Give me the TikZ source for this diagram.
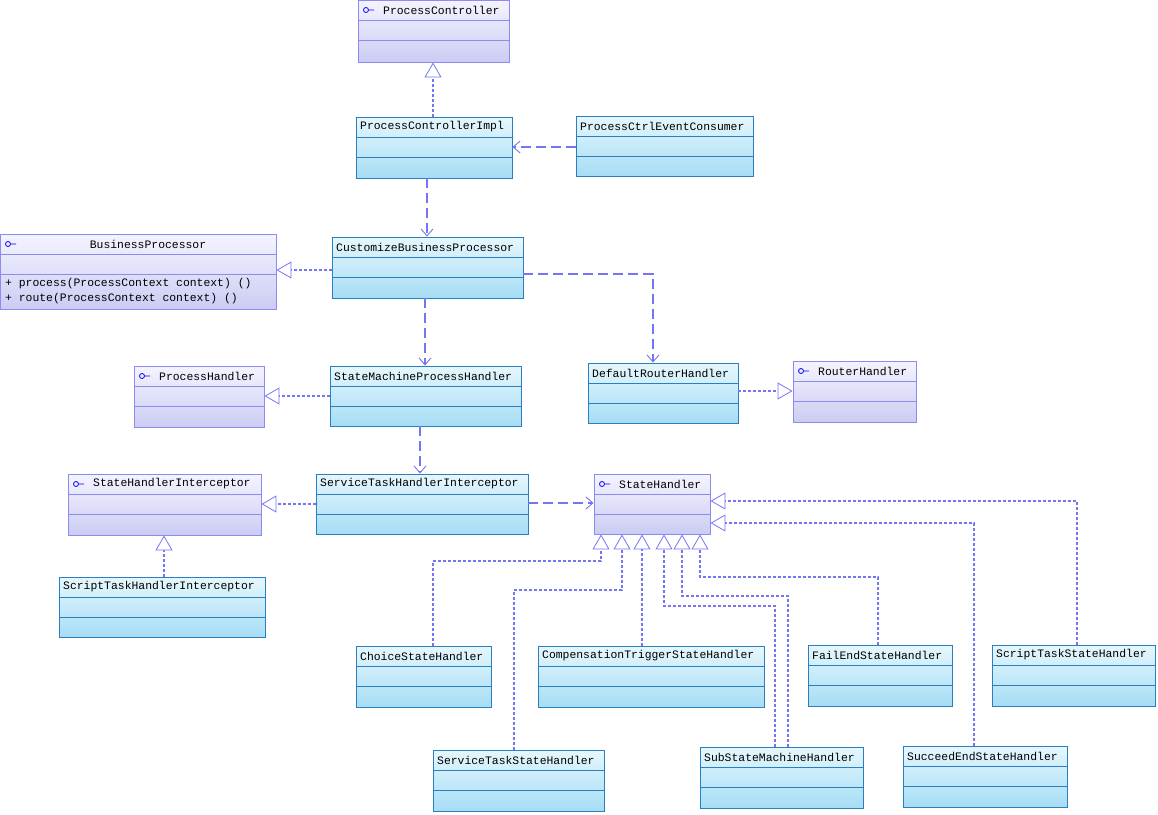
\documentclass[tikz,border=0pt]{standalone}
\usepackage{fontspec}
\setmainfont{Liberation Mono}
\usetikzlibrary{arrows.meta,fit}
\definecolor{ln}{HTML}{7474F4}
\definecolor{ib}{HTML}{8C8CF0}
\definecolor{cb}{HTML}{2A7FC0}
\definecolor{ifA}{HTML}{F4F4FF}
\definecolor{ifB}{HTML}{CCCCF4}
\definecolor{clA}{HTML}{E6F7FD}
\definecolor{clB}{HTML}{A6DDF5}
\tikzset{
  iface/.style={draw=ib, top color=ifA, bottom color=ifB},
  cls/.style={draw=cb, top color=clA, bottom color=clB},
  real/.style={ln, line width=1.2pt, dash pattern=on 3pt off 2pt, -{Triangle[open,length=15pt,width=17pt,fill=white,line width=0.8pt]}},
  dep/.style={ln, line width=1.2pt, dash pattern=on 10pt off 5pt, -{Straight Barb[length=7pt,width=12pt,line width=0.9pt]}},
  lbl/.style={font=\fontsize{11.4}{13}\selectfont, inner sep=0pt, anchor=west},
}
% #1 style #2 name #3 x1 #4 y1 #5 x2 #6 y2 #7 label #8 interface?(1/0)
\newcommand{\umlbox}[8]{%
  \node[#1, fit={(#3,#4)(#5,#6)}, inner sep=0pt, line width=0.9pt] (#2) {};
  \draw[#1, fill=none, line width=0.7pt] (#3,#4+20) -- (#5,#4+20) (#3,#4+40) -- (#5,#4+40);
  \ifnum#8=1
    \draw[blue, line width=0.8pt] (#3+8,#4+10) circle (2.5pt) (#3+10.5,#4+10) -- (#3+16,#4+10);
    \node[lbl] at (#3+25,#4+10) {#7};
  \else
    \node[lbl] at (#3+4,#4+10) {#7};
  \fi
}
\begin{document}
\begin{tikzpicture}[x=1pt,y=-1pt]
\useasboundingbox (0,0) rectangle (1158,814);
\umlbox{iface}{pc}{358}{0}{509}{62}{ProcessController}{1}
\umlbox{cls}{impl}{356}{117}{512}{178}{ProcessControllerImpl}{0}
\umlbox{cls}{cons}{576}{116}{753}{176}{ProcessCtrlEventConsumer}{0}
% BusinessProcessor
\node[iface, fit={(0,234)(276,309)}, inner sep=0pt, line width=0.9pt] (bp) {};
\draw[ib, line width=0.7pt] (0,254) -- (276,254) (0,274) -- (276,274);
\draw[blue, line width=0.8pt] (8,244) circle (2.5pt) (10.5,244) -- (16,244);
\node[lbl, anchor=center] at (148,244) {BusinessProcessor};
\node[lbl] at (5,284) {+ process(ProcessContext context) ()};
\node[lbl] at (5,299) {+ route(ProcessContext context) ()};
\umlbox{cls}{cbp}{332}{237}{523}{298}{CustomizeBusinessProcessor}{0}
\umlbox{iface}{ph}{134}{366}{264}{427}{ProcessHandler}{1}
\umlbox{cls}{smph}{330}{366}{521}{426}{StateMachineProcessHandler}{0}
\umlbox{cls}{drh}{588}{363}{738}{423}{DefaultRouterHandler}{0}
\umlbox{iface}{rh}{793}{361}{916}{422}{RouterHandler}{1}
\umlbox{iface}{shi}{68}{474}{261}{535}{StateHandlerInterceptor}{1}
\umlbox{cls}{sthi}{316}{474}{528}{534}{ServiceTaskHandlerInterceptor}{0}
\umlbox{iface}{sh}{594}{474}{710}{534}{StateHandler}{1}
\umlbox{cls}{scthi}{59}{577}{265}{637}{ScriptTaskHandlerInterceptor}{0}
\umlbox{cls}{choice}{356}{646}{491}{707}{ChoiceStateHandler}{0}
\umlbox{cls}{comp}{538}{646}{764}{707}{CompensationTriggerStateHandler}{0}
\umlbox{cls}{fail}{808}{645}{952}{706}{FailEndStateHandler}{0}
\umlbox{cls}{scts}{992}{645}{1155}{706}{ScriptTaskStateHandler}{0}
\umlbox{cls}{svts}{433}{750}{604}{811}{ServiceTaskStateHandler}{0}
\umlbox{cls}{sub}{700}{747}{863}{808}{SubStateMachineHandler}{0}
\umlbox{cls}{succ}{903}{746}{1067}{807}{SucceedEndStateHandler}{0}
% connectors
\draw[real] (impl.north -| 433,0) -- (pc.south -| 433,0);
\draw[dep] (cons.west |- 0,147) -- (impl.east |- 0,147);
\draw[dep] (impl.south -| 427,0) -- (cbp.north -| 427,0);
\draw[real] (cbp.west |- 0,270) -- (bp.east |- 0,270);
\draw[dep] (cbp.east |- 0,274) -- (653,274) -- (drh.north -| 653,0);
\draw[dep] (cbp.south -| 425,0) -- (smph.north -| 425,0);
\draw[real] (smph.west |- 0,396) -- (ph.east |- 0,396);
\draw[dep] (smph.south -| 420,0) -- (sthi.north -| 420,0);
\draw[real] (drh.east |- 0,391) -- (rh.west |- 0,391);
\draw[real] (sthi.west |- 0,504) -- (shi.east |- 0,504);
\draw[dep] (sthi.east |- 0,503) -- (sh.west |- 0,503);
\draw[real] (scthi.north -| 164,0) -- (shi.south -| 164,0);
\draw[real] (choice.north -| 433,0) -- (433,561) -- (601,561) -- (sh.south -| 601,0);
\draw[real] (svts.north -| 514,0) -- (514,590) -- (622,590) -- (sh.south -| 622,0);
\draw[real] (comp.north -| 642,0) -- (sh.south -| 642,0);
\draw[real] (sub.north -| 775,0) -- (775,606) -- (664,606) -- (sh.south -| 664,0);
\draw[real] (sub.north -| 788,0) -- (788,596) -- (682,596) -- (sh.south -| 682,0);
\draw[real] (fail.north -| 878,0) -- (878,577) -- (700,577) -- (sh.south -| 700,0);
\draw[real] (scts.north -| 1077,0) -- (1077,501) -- (sh.east |- 0,501);
\draw[real] (succ.north -| 974,0) -- (974,523) -- (sh.east |- 0,523);
\end{tikzpicture}
\end{document}
